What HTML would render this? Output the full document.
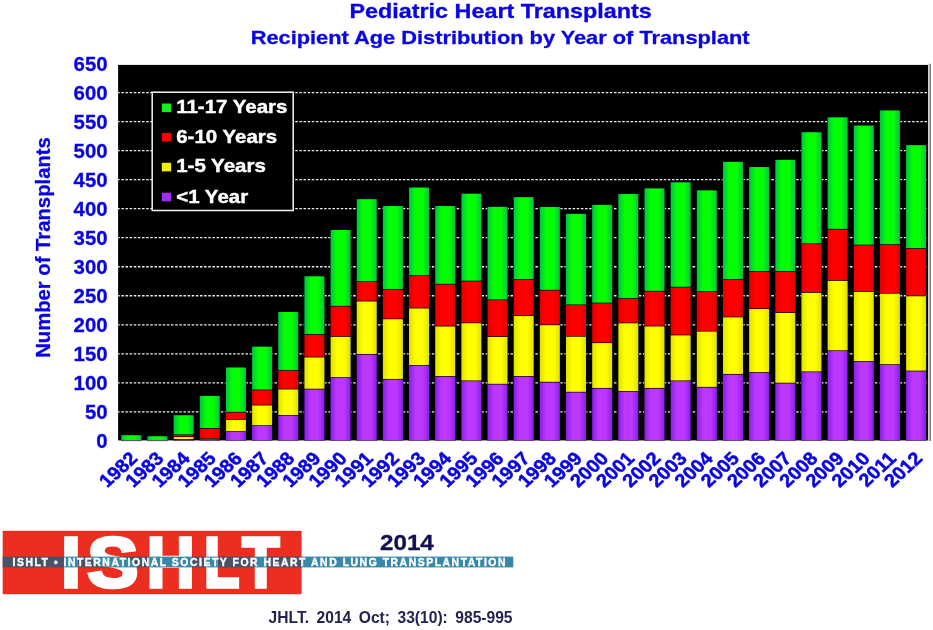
<!DOCTYPE html>
<html><head><meta charset="utf-8"><title>Pediatric Heart Transplants</title>
<style>html,body{margin:0;padding:0;background:#fff}svg{display:block}text{font-family:"Liberation Sans",sans-serif;font-weight:bold}</style></head><body>
<svg width="933" height="630" viewBox="0 0 933 630">
<defs>
<linearGradient id="gg" x1="0" x2="1" y1="0" y2="0"><stop offset="0" stop-color="#00c440"/><stop offset="0.32" stop-color="#04ff04"/><stop offset="0.68" stop-color="#04ff04"/><stop offset="1" stop-color="#00c440"/></linearGradient>
<linearGradient id="gr" x1="0" x2="1" y1="0" y2="0"><stop offset="0" stop-color="#e00000"/><stop offset="0.32" stop-color="#ff0000"/><stop offset="0.68" stop-color="#ff0000"/><stop offset="1" stop-color="#e00000"/></linearGradient>
<linearGradient id="gy" x1="0" x2="1" y1="0" y2="0"><stop offset="0" stop-color="#e0e000"/><stop offset="0.32" stop-color="#ffff00"/><stop offset="0.68" stop-color="#ffff00"/><stop offset="1" stop-color="#e0e000"/></linearGradient>
<linearGradient id="gp" x1="0" x2="1" y1="0" y2="0"><stop offset="0" stop-color="#8a1ee8"/><stop offset="0.32" stop-color="#bc38ff"/><stop offset="0.68" stop-color="#bc38ff"/><stop offset="1" stop-color="#8a1ee8"/></linearGradient>
</defs>
<rect width="933" height="630" fill="#fff"/>
<text transform="translate(500.6,18.0) scale(1.18,1)" font-size="19.8" text-anchor="middle" fill="#0a04e2" stroke="#0a04e2" stroke-width="0.3">Pediatric Heart Transplants</text>
<text transform="translate(500.15,43.7) scale(1.16,1)" font-size="18.8" text-anchor="middle" fill="#0a04e2" stroke="#0a04e2" stroke-width="0.3">Recipient Age Distribution by Year of Transplant</text>
<rect x="118.1" y="64.9" width="809.9" height="375.5" fill="#000"/>
<rect x="928.4" y="63.8" width="1.3" height="377.2" fill="#b4b4b4"/>
<rect x="929.7" y="63.8" width="1.3" height="377.2" fill="#7c7c7c"/>
<line x1="117.2" x2="928.3" y1="411.89" y2="411.89" stroke="#f0f0f0" stroke-width="1.3" stroke-dasharray="2.5 1.64"/>
<line x1="117.2" x2="928.3" y1="382.86" y2="382.86" stroke="#f0f0f0" stroke-width="1.3" stroke-dasharray="2.5 1.64"/>
<line x1="117.2" x2="928.3" y1="353.83" y2="353.83" stroke="#f0f0f0" stroke-width="1.3" stroke-dasharray="2.5 1.64"/>
<line x1="117.2" x2="928.3" y1="324.80" y2="324.80" stroke="#f0f0f0" stroke-width="1.3" stroke-dasharray="2.5 1.64"/>
<line x1="117.2" x2="928.3" y1="295.77" y2="295.77" stroke="#f0f0f0" stroke-width="1.3" stroke-dasharray="2.5 1.64"/>
<line x1="117.2" x2="928.3" y1="266.74" y2="266.74" stroke="#f0f0f0" stroke-width="1.3" stroke-dasharray="2.5 1.64"/>
<line x1="117.2" x2="928.3" y1="237.71" y2="237.71" stroke="#f0f0f0" stroke-width="1.3" stroke-dasharray="2.5 1.64"/>
<line x1="117.2" x2="928.3" y1="208.68" y2="208.68" stroke="#f0f0f0" stroke-width="1.3" stroke-dasharray="2.5 1.64"/>
<line x1="117.2" x2="928.3" y1="179.65" y2="179.65" stroke="#f0f0f0" stroke-width="1.3" stroke-dasharray="2.5 1.64"/>
<line x1="117.2" x2="928.3" y1="150.62" y2="150.62" stroke="#f0f0f0" stroke-width="1.3" stroke-dasharray="2.5 1.64"/>
<line x1="117.2" x2="928.3" y1="121.59" y2="121.59" stroke="#f0f0f0" stroke-width="1.3" stroke-dasharray="2.5 1.64"/>
<line x1="117.2" x2="928.3" y1="92.56" y2="92.56" stroke="#f0f0f0" stroke-width="1.3" stroke-dasharray="2.5 1.64"/>
<text x="107.6" y="448.0" font-size="20.4" text-anchor="end" fill="#0a04e2" stroke="#0a04e2" stroke-width="0.3">0</text>
<text x="107.6" y="419.0" font-size="20.4" text-anchor="end" fill="#0a04e2" stroke="#0a04e2" stroke-width="0.3">50</text>
<text x="107.6" y="390.0" font-size="20.4" text-anchor="end" fill="#0a04e2" stroke="#0a04e2" stroke-width="0.3">100</text>
<text x="107.6" y="360.9" font-size="20.4" text-anchor="end" fill="#0a04e2" stroke="#0a04e2" stroke-width="0.3">150</text>
<text x="107.6" y="331.9" font-size="20.4" text-anchor="end" fill="#0a04e2" stroke="#0a04e2" stroke-width="0.3">200</text>
<text x="107.6" y="302.9" font-size="20.4" text-anchor="end" fill="#0a04e2" stroke="#0a04e2" stroke-width="0.3">250</text>
<text x="107.6" y="273.8" font-size="20.4" text-anchor="end" fill="#0a04e2" stroke="#0a04e2" stroke-width="0.3">300</text>
<text x="107.6" y="244.8" font-size="20.4" text-anchor="end" fill="#0a04e2" stroke="#0a04e2" stroke-width="0.3">350</text>
<text x="107.6" y="215.8" font-size="20.4" text-anchor="end" fill="#0a04e2" stroke="#0a04e2" stroke-width="0.3">400</text>
<text x="107.6" y="186.8" font-size="20.4" text-anchor="end" fill="#0a04e2" stroke="#0a04e2" stroke-width="0.3">450</text>
<text x="107.6" y="157.7" font-size="20.4" text-anchor="end" fill="#0a04e2" stroke="#0a04e2" stroke-width="0.3">500</text>
<text x="107.6" y="128.7" font-size="20.4" text-anchor="end" fill="#0a04e2" stroke="#0a04e2" stroke-width="0.3">550</text>
<text x="107.6" y="99.7" font-size="20.4" text-anchor="end" fill="#0a04e2" stroke="#0a04e2" stroke-width="0.3">600</text>
<text x="107.6" y="70.6" font-size="20.4" text-anchor="end" fill="#0a04e2" stroke="#0a04e2" stroke-width="0.3">650</text>
<text transform="translate(50,247.5) rotate(-90)" font-size="20.25" text-anchor="middle" fill="#0a04e2" stroke="#0a04e2" stroke-width="0.3">Number of Transplants</text>
<rect x="120.90" y="434.44" width="20.80" height="6.06" fill="#000"/>
<rect x="121.30" y="435.19" width="20.00" height="4.96" fill="url(#gg)"/>
<rect x="121.30" y="440.85" width="20.00" height="0.30" fill="url(#gp)"/>
<rect x="147.06" y="435.48" width="20.80" height="5.02" fill="#000"/>
<rect x="147.46" y="436.23" width="20.00" height="3.92" fill="url(#gg)"/>
<rect x="147.46" y="440.85" width="20.00" height="0.30" fill="url(#gp)"/>
<rect x="173.22" y="414.45" width="20.80" height="26.05" fill="#000"/>
<rect x="173.62" y="415.20" width="20.00" height="19.17" fill="url(#gg)"/>
<rect x="173.62" y="435.07" width="20.00" height="1.32" fill="url(#gr)"/>
<rect x="173.62" y="437.09" width="20.00" height="1.90" fill="url(#gy)"/>
<rect x="173.62" y="439.69" width="20.00" height="0.66" fill="url(#gp)"/>
<rect x="199.38" y="395.15" width="20.80" height="45.35" fill="#000"/>
<rect x="199.78" y="395.90" width="20.00" height="32.11" fill="url(#gg)"/>
<rect x="199.78" y="428.72" width="20.00" height="9.41" fill="url(#gr)"/>
<rect x="199.78" y="438.83" width="20.00" height="0.46" fill="url(#gy)"/>
<rect x="199.78" y="439.98" width="20.00" height="0.37" fill="url(#gp)"/>
<rect x="225.54" y="366.73" width="20.80" height="73.77" fill="#000"/>
<rect x="225.94" y="367.48" width="20.00" height="44.36" fill="url(#gg)"/>
<rect x="225.94" y="412.54" width="20.00" height="6.58" fill="url(#gr)"/>
<rect x="225.94" y="419.82" width="20.00" height="11.37" fill="url(#gy)"/>
<rect x="225.94" y="431.90" width="20.00" height="8.45" fill="url(#gp)"/>
<rect x="251.70" y="345.93" width="20.80" height="94.57" fill="#000"/>
<rect x="252.10" y="346.68" width="20.00" height="42.92" fill="url(#gg)"/>
<rect x="252.10" y="390.30" width="20.00" height="14.44" fill="url(#gr)"/>
<rect x="252.10" y="405.44" width="20.00" height="19.81" fill="url(#gy)"/>
<rect x="252.10" y="425.95" width="20.00" height="14.40" fill="url(#gp)"/>
<rect x="277.86" y="311.27" width="20.80" height="129.23" fill="#000"/>
<rect x="278.26" y="312.02" width="20.00" height="58.05" fill="url(#gg)"/>
<rect x="278.26" y="370.77" width="20.00" height="17.96" fill="url(#gr)"/>
<rect x="278.26" y="389.43" width="20.00" height="25.59" fill="url(#gy)"/>
<rect x="278.26" y="415.72" width="20.00" height="24.63" fill="url(#gp)"/>
<rect x="304.02" y="275.57" width="20.80" height="164.93" fill="#000"/>
<rect x="304.42" y="276.32" width="20.00" height="57.82" fill="url(#gg)"/>
<rect x="304.42" y="334.84" width="20.00" height="21.89" fill="url(#gr)"/>
<rect x="304.42" y="357.43" width="20.00" height="31.30" fill="url(#gy)"/>
<rect x="304.42" y="389.43" width="20.00" height="50.92" fill="url(#gp)"/>
<rect x="330.18" y="229.24" width="20.80" height="211.26" fill="#000"/>
<rect x="330.58" y="229.99" width="20.00" height="75.85" fill="url(#gg)"/>
<rect x="330.58" y="306.53" width="20.00" height="29.63" fill="url(#gr)"/>
<rect x="330.58" y="336.86" width="20.00" height="40.32" fill="url(#gy)"/>
<rect x="330.58" y="377.88" width="20.00" height="62.47" fill="url(#gp)"/>
<rect x="356.34" y="198.39" width="20.80" height="242.11" fill="#000"/>
<rect x="356.74" y="199.14" width="20.00" height="82.14" fill="url(#gg)"/>
<rect x="356.74" y="281.98" width="20.00" height="18.77" fill="url(#gr)"/>
<rect x="356.74" y="301.45" width="20.00" height="52.51" fill="url(#gy)"/>
<rect x="356.74" y="354.66" width="20.00" height="85.69" fill="url(#gp)"/>
<rect x="382.50" y="205.32" width="20.80" height="235.18" fill="#000"/>
<rect x="382.90" y="206.07" width="20.00" height="82.89" fill="url(#gg)"/>
<rect x="382.90" y="289.67" width="20.00" height="28.88" fill="url(#gr)"/>
<rect x="382.90" y="319.24" width="20.00" height="59.67" fill="url(#gy)"/>
<rect x="382.90" y="379.61" width="20.00" height="60.74" fill="url(#gp)"/>
<rect x="408.66" y="186.78" width="20.80" height="253.72" fill="#000"/>
<rect x="409.06" y="187.53" width="20.00" height="87.80" fill="url(#gg)"/>
<rect x="409.06" y="276.03" width="20.00" height="31.71" fill="url(#gr)"/>
<rect x="409.06" y="308.44" width="20.00" height="56.61" fill="url(#gy)"/>
<rect x="409.06" y="365.75" width="20.00" height="74.60" fill="url(#gp)"/>
<rect x="434.82" y="205.32" width="20.80" height="235.18" fill="#000"/>
<rect x="435.22" y="206.07" width="20.00" height="77.75" fill="url(#gg)"/>
<rect x="435.22" y="284.52" width="20.00" height="41.24" fill="url(#gr)"/>
<rect x="435.22" y="326.47" width="20.00" height="49.62" fill="url(#gy)"/>
<rect x="435.22" y="376.78" width="20.00" height="63.57" fill="url(#gp)"/>
<rect x="460.98" y="192.96" width="20.80" height="247.54" fill="#000"/>
<rect x="461.38" y="193.71" width="20.00" height="86.99" fill="url(#gg)"/>
<rect x="461.38" y="281.40" width="20.00" height="41.13" fill="url(#gr)"/>
<rect x="461.38" y="323.23" width="20.00" height="57.24" fill="url(#gy)"/>
<rect x="461.38" y="381.17" width="20.00" height="59.18" fill="url(#gp)"/>
<rect x="487.14" y="206.13" width="20.80" height="234.37" fill="#000"/>
<rect x="487.54" y="206.88" width="20.00" height="92.60" fill="url(#gg)"/>
<rect x="487.54" y="300.18" width="20.00" height="36.10" fill="url(#gr)"/>
<rect x="487.54" y="336.98" width="20.00" height="46.84" fill="url(#gy)"/>
<rect x="487.54" y="384.52" width="20.00" height="55.83" fill="url(#gp)"/>
<rect x="513.30" y="196.43" width="20.80" height="244.07" fill="#000"/>
<rect x="513.70" y="197.18" width="20.00" height="81.85" fill="url(#gg)"/>
<rect x="513.70" y="279.73" width="20.00" height="35.64" fill="url(#gr)"/>
<rect x="513.70" y="316.07" width="20.00" height="60.02" fill="url(#gy)"/>
<rect x="513.70" y="376.78" width="20.00" height="63.57" fill="url(#gp)"/>
<rect x="539.46" y="206.19" width="20.80" height="234.31" fill="#000"/>
<rect x="539.86" y="206.94" width="20.00" height="82.89" fill="url(#gg)"/>
<rect x="539.86" y="290.53" width="20.00" height="33.96" fill="url(#gr)"/>
<rect x="539.86" y="325.19" width="20.00" height="56.61" fill="url(#gy)"/>
<rect x="539.86" y="382.50" width="20.00" height="57.85" fill="url(#gp)"/>
<rect x="565.62" y="213.12" width="20.80" height="227.38" fill="#000"/>
<rect x="566.02" y="213.87" width="20.00" height="90.58" fill="url(#gg)"/>
<rect x="566.02" y="305.15" width="20.00" height="30.84" fill="url(#gr)"/>
<rect x="566.02" y="336.69" width="20.00" height="55.11" fill="url(#gy)"/>
<rect x="566.02" y="392.50" width="20.00" height="47.85" fill="url(#gp)"/>
<rect x="591.78" y="204.11" width="20.80" height="236.39" fill="#000"/>
<rect x="592.18" y="204.86" width="20.00" height="97.80" fill="url(#gg)"/>
<rect x="592.18" y="303.36" width="20.00" height="39.05" fill="url(#gr)"/>
<rect x="592.18" y="343.10" width="20.00" height="44.82" fill="url(#gy)"/>
<rect x="592.18" y="388.63" width="20.00" height="51.72" fill="url(#gp)"/>
<rect x="617.94" y="193.31" width="20.80" height="247.19" fill="#000"/>
<rect x="618.34" y="194.06" width="20.00" height="104.07" fill="url(#gg)"/>
<rect x="618.34" y="298.82" width="20.00" height="23.77" fill="url(#gr)"/>
<rect x="618.34" y="323.29" width="20.00" height="67.76" fill="url(#gy)"/>
<rect x="618.34" y="391.75" width="20.00" height="48.60" fill="url(#gp)"/>
<rect x="644.10" y="187.65" width="20.80" height="252.85" fill="#000"/>
<rect x="644.50" y="188.40" width="20.00" height="102.42" fill="url(#gg)"/>
<rect x="644.50" y="291.51" width="20.00" height="34.19" fill="url(#gr)"/>
<rect x="644.50" y="326.41" width="20.00" height="61.52" fill="url(#gy)"/>
<rect x="644.50" y="388.63" width="20.00" height="51.72" fill="url(#gp)"/>
<rect x="670.26" y="181.52" width="20.80" height="258.98" fill="#000"/>
<rect x="670.66" y="182.27" width="20.00" height="104.50" fill="url(#gg)"/>
<rect x="670.66" y="287.47" width="20.00" height="47.19" fill="url(#gr)"/>
<rect x="670.66" y="335.36" width="20.00" height="45.11" fill="url(#gy)"/>
<rect x="670.66" y="381.17" width="20.00" height="59.18" fill="url(#gp)"/>
<rect x="696.42" y="189.61" width="20.80" height="250.89" fill="#000"/>
<rect x="696.82" y="190.36" width="20.00" height="100.92" fill="url(#gg)"/>
<rect x="696.82" y="291.98" width="20.00" height="38.87" fill="url(#gr)"/>
<rect x="696.82" y="331.55" width="20.00" height="55.34" fill="url(#gy)"/>
<rect x="696.82" y="387.59" width="20.00" height="52.76" fill="url(#gp)"/>
<rect x="722.58" y="161.10" width="20.80" height="279.40" fill="#000"/>
<rect x="722.98" y="161.85" width="20.00" height="117.30" fill="url(#gg)"/>
<rect x="722.98" y="279.85" width="20.00" height="36.80" fill="url(#gr)"/>
<rect x="722.98" y="317.35" width="20.00" height="56.60" fill="url(#gy)"/>
<rect x="722.98" y="374.65" width="20.00" height="65.70" fill="url(#gp)"/>
<rect x="748.74" y="166.30" width="20.80" height="274.20" fill="#000"/>
<rect x="749.14" y="167.05" width="20.00" height="104.00" fill="url(#gg)"/>
<rect x="749.14" y="271.75" width="20.00" height="36.60" fill="url(#gr)"/>
<rect x="749.14" y="309.05" width="20.00" height="63.10" fill="url(#gy)"/>
<rect x="749.14" y="372.85" width="20.00" height="67.50" fill="url(#gp)"/>
<rect x="774.90" y="159.10" width="20.80" height="281.40" fill="#000"/>
<rect x="775.30" y="159.85" width="20.00" height="111.20" fill="url(#gg)"/>
<rect x="775.30" y="271.75" width="20.00" height="40.50" fill="url(#gr)"/>
<rect x="775.30" y="312.95" width="20.00" height="69.80" fill="url(#gy)"/>
<rect x="775.30" y="383.45" width="20.00" height="56.90" fill="url(#gp)"/>
<rect x="801.06" y="131.50" width="20.80" height="309.00" fill="#000"/>
<rect x="801.46" y="132.25" width="20.00" height="111.15" fill="url(#gg)"/>
<rect x="801.46" y="244.10" width="20.00" height="48.05" fill="url(#gr)"/>
<rect x="801.46" y="292.85" width="20.00" height="78.60" fill="url(#gy)"/>
<rect x="801.46" y="372.15" width="20.00" height="68.20" fill="url(#gp)"/>
<rect x="827.22" y="116.60" width="20.80" height="323.90" fill="#000"/>
<rect x="827.62" y="117.35" width="20.00" height="111.50" fill="url(#gg)"/>
<rect x="827.62" y="229.55" width="20.00" height="50.60" fill="url(#gr)"/>
<rect x="827.62" y="280.85" width="20.00" height="69.50" fill="url(#gy)"/>
<rect x="827.62" y="351.05" width="20.00" height="89.30" fill="url(#gp)"/>
<rect x="853.38" y="124.80" width="20.80" height="315.70" fill="#000"/>
<rect x="853.78" y="125.55" width="20.00" height="119.10" fill="url(#gg)"/>
<rect x="853.78" y="245.35" width="20.00" height="45.80" fill="url(#gr)"/>
<rect x="853.78" y="291.85" width="20.00" height="69.25" fill="url(#gy)"/>
<rect x="853.78" y="361.80" width="20.00" height="78.55" fill="url(#gp)"/>
<rect x="879.54" y="109.70" width="20.80" height="330.80" fill="#000"/>
<rect x="879.94" y="110.45" width="20.00" height="133.80" fill="url(#gg)"/>
<rect x="879.94" y="244.95" width="20.00" height="48.00" fill="url(#gr)"/>
<rect x="879.94" y="293.65" width="20.00" height="70.60" fill="url(#gy)"/>
<rect x="879.94" y="364.95" width="20.00" height="75.40" fill="url(#gp)"/>
<rect x="905.70" y="144.40" width="20.80" height="296.10" fill="#000"/>
<rect x="906.10" y="145.15" width="20.00" height="103.00" fill="url(#gg)"/>
<rect x="906.10" y="248.85" width="20.00" height="46.70" fill="url(#gr)"/>
<rect x="906.10" y="296.25" width="20.00" height="74.40" fill="url(#gy)"/>
<rect x="906.10" y="371.35" width="20.00" height="69.00" fill="url(#gp)"/>
<text transform="translate(138.7,459.6) scale(1.09,1) rotate(-45)" font-size="18.3" text-anchor="end" fill="#0a04e2" stroke="#0a04e2" stroke-width="0.5">1982</text>
<text transform="translate(164.9,459.6) scale(1.09,1) rotate(-45)" font-size="18.3" text-anchor="end" fill="#0a04e2" stroke="#0a04e2" stroke-width="0.5">1983</text>
<text transform="translate(191.0,459.6) scale(1.09,1) rotate(-45)" font-size="18.3" text-anchor="end" fill="#0a04e2" stroke="#0a04e2" stroke-width="0.5">1984</text>
<text transform="translate(217.2,459.6) scale(1.09,1) rotate(-45)" font-size="18.3" text-anchor="end" fill="#0a04e2" stroke="#0a04e2" stroke-width="0.5">1985</text>
<text transform="translate(243.3,459.6) scale(1.09,1) rotate(-45)" font-size="18.3" text-anchor="end" fill="#0a04e2" stroke="#0a04e2" stroke-width="0.5">1986</text>
<text transform="translate(269.5,459.6) scale(1.09,1) rotate(-45)" font-size="18.3" text-anchor="end" fill="#0a04e2" stroke="#0a04e2" stroke-width="0.5">1987</text>
<text transform="translate(295.7,459.6) scale(1.09,1) rotate(-45)" font-size="18.3" text-anchor="end" fill="#0a04e2" stroke="#0a04e2" stroke-width="0.5">1988</text>
<text transform="translate(321.8,459.6) scale(1.09,1) rotate(-45)" font-size="18.3" text-anchor="end" fill="#0a04e2" stroke="#0a04e2" stroke-width="0.5">1989</text>
<text transform="translate(348.0,459.6) scale(1.09,1) rotate(-45)" font-size="18.3" text-anchor="end" fill="#0a04e2" stroke="#0a04e2" stroke-width="0.5">1990</text>
<text transform="translate(374.1,459.6) scale(1.09,1) rotate(-45)" font-size="18.3" text-anchor="end" fill="#0a04e2" stroke="#0a04e2" stroke-width="0.5">1991</text>
<text transform="translate(400.3,459.6) scale(1.09,1) rotate(-45)" font-size="18.3" text-anchor="end" fill="#0a04e2" stroke="#0a04e2" stroke-width="0.5">1992</text>
<text transform="translate(426.5,459.6) scale(1.09,1) rotate(-45)" font-size="18.3" text-anchor="end" fill="#0a04e2" stroke="#0a04e2" stroke-width="0.5">1993</text>
<text transform="translate(452.6,459.6) scale(1.09,1) rotate(-45)" font-size="18.3" text-anchor="end" fill="#0a04e2" stroke="#0a04e2" stroke-width="0.5">1994</text>
<text transform="translate(478.8,459.6) scale(1.09,1) rotate(-45)" font-size="18.3" text-anchor="end" fill="#0a04e2" stroke="#0a04e2" stroke-width="0.5">1995</text>
<text transform="translate(504.9,459.6) scale(1.09,1) rotate(-45)" font-size="18.3" text-anchor="end" fill="#0a04e2" stroke="#0a04e2" stroke-width="0.5">1996</text>
<text transform="translate(531.1,459.6) scale(1.09,1) rotate(-45)" font-size="18.3" text-anchor="end" fill="#0a04e2" stroke="#0a04e2" stroke-width="0.5">1997</text>
<text transform="translate(557.3,459.6) scale(1.09,1) rotate(-45)" font-size="18.3" text-anchor="end" fill="#0a04e2" stroke="#0a04e2" stroke-width="0.5">1998</text>
<text transform="translate(583.4,459.6) scale(1.09,1) rotate(-45)" font-size="18.3" text-anchor="end" fill="#0a04e2" stroke="#0a04e2" stroke-width="0.5">1999</text>
<text transform="translate(609.6,459.6) scale(1.09,1) rotate(-45)" font-size="18.3" text-anchor="end" fill="#0a04e2" stroke="#0a04e2" stroke-width="0.5">2000</text>
<text transform="translate(635.7,459.6) scale(1.09,1) rotate(-45)" font-size="18.3" text-anchor="end" fill="#0a04e2" stroke="#0a04e2" stroke-width="0.5">2001</text>
<text transform="translate(661.9,459.6) scale(1.09,1) rotate(-45)" font-size="18.3" text-anchor="end" fill="#0a04e2" stroke="#0a04e2" stroke-width="0.5">2002</text>
<text transform="translate(688.1,459.6) scale(1.09,1) rotate(-45)" font-size="18.3" text-anchor="end" fill="#0a04e2" stroke="#0a04e2" stroke-width="0.5">2003</text>
<text transform="translate(714.2,459.6) scale(1.09,1) rotate(-45)" font-size="18.3" text-anchor="end" fill="#0a04e2" stroke="#0a04e2" stroke-width="0.5">2004</text>
<text transform="translate(740.4,459.6) scale(1.09,1) rotate(-45)" font-size="18.3" text-anchor="end" fill="#0a04e2" stroke="#0a04e2" stroke-width="0.5">2005</text>
<text transform="translate(766.5,459.6) scale(1.09,1) rotate(-45)" font-size="18.3" text-anchor="end" fill="#0a04e2" stroke="#0a04e2" stroke-width="0.5">2006</text>
<text transform="translate(792.7,459.6) scale(1.09,1) rotate(-45)" font-size="18.3" text-anchor="end" fill="#0a04e2" stroke="#0a04e2" stroke-width="0.5">2007</text>
<text transform="translate(818.9,459.6) scale(1.09,1) rotate(-45)" font-size="18.3" text-anchor="end" fill="#0a04e2" stroke="#0a04e2" stroke-width="0.5">2008</text>
<text transform="translate(845.0,459.6) scale(1.09,1) rotate(-45)" font-size="18.3" text-anchor="end" fill="#0a04e2" stroke="#0a04e2" stroke-width="0.5">2009</text>
<text transform="translate(871.2,459.6) scale(1.09,1) rotate(-45)" font-size="18.3" text-anchor="end" fill="#0a04e2" stroke="#0a04e2" stroke-width="0.5">2010</text>
<text transform="translate(897.3,459.6) scale(1.09,1) rotate(-45)" font-size="18.3" text-anchor="end" fill="#0a04e2" stroke="#0a04e2" stroke-width="0.5">2011</text>
<text transform="translate(923.5,459.6) scale(1.09,1) rotate(-45)" font-size="18.3" text-anchor="end" fill="#0a04e2" stroke="#0a04e2" stroke-width="0.5">2012</text>
<rect x="152.2" y="92.2" width="141" height="118.3" fill="#000" stroke="#f4f4f4" stroke-width="1.5"/>
<rect x="161.8" y="103.5" width="9.3" height="8.6" fill="#14f01c"/>
<text transform="translate(176.2,113.3) scale(1.073,1)" font-size="19.1" text-anchor="start" fill="#fff" stroke="#fff" stroke-width="0.45">11-17 Years</text>
<rect x="161.8" y="132.9" width="9.3" height="8.6" fill="#ff0000"/>
<text transform="translate(176.2,143.0) scale(1.073,1)" font-size="19.1" text-anchor="start" fill="#fff" stroke="#fff" stroke-width="0.45">6-10 Years</text>
<rect x="161.8" y="162.8" width="9.3" height="8.6" fill="#f0f000"/>
<text transform="translate(176.2,172.4) scale(1.073,1)" font-size="19.1" text-anchor="start" fill="#fff" stroke="#fff" stroke-width="0.45">1-5 Years</text>
<rect x="161.8" y="192.7" width="9.3" height="8.6" fill="#a030f0"/>
<text transform="translate(176.2,203.0) scale(1.073,1)" font-size="19.1" text-anchor="start" fill="#fff" stroke="#fff" stroke-width="0.45">&lt;1 Year</text>
<rect x="2.7" y="530.8" width="298.9" height="63.4" fill="#ec2e20"/>
<rect x="2.7" y="556.6" width="298.9" height="10.8" fill="#485268"/>
<rect x="301.6" y="556.6" width="211.7" height="10.8" fill="#3a88a8"/>
<mask id="lm" maskUnits="userSpaceOnUse" x="0" y="520" width="320" height="90"><text y="586.8" font-size="69.8" fill="#fff" stroke="#fff" stroke-width="3.6" stroke-linejoin="miter"><tspan x="61.2" textLength="19.40" lengthAdjust="spacingAndGlyphs">I</tspan><tspan x="87.4" textLength="50.75" lengthAdjust="spacingAndGlyphs">S</tspan><tspan x="146.8" textLength="47.88" lengthAdjust="spacingAndGlyphs">H</tspan><tspan x="204.0" textLength="35.40" lengthAdjust="spacingAndGlyphs">L</tspan><tspan x="242.3" textLength="37.10" lengthAdjust="spacingAndGlyphs">T</tspan></text></mask>
<text y="586.8" font-size="69.8" fill="#fff" stroke="#fff" stroke-width="3.6" stroke-linejoin="miter"><tspan x="61.2" textLength="19.40" lengthAdjust="spacingAndGlyphs">I</tspan><tspan x="87.4" textLength="50.75" lengthAdjust="spacingAndGlyphs">S</tspan><tspan x="146.8" textLength="47.88" lengthAdjust="spacingAndGlyphs">H</tspan><tspan x="204.0" textLength="35.40" lengthAdjust="spacingAndGlyphs">L</tspan><tspan x="242.3" textLength="37.10" lengthAdjust="spacingAndGlyphs">T</tspan></text>
<rect x="2.7" y="556.6" width="298.9" height="10.8" fill="#3a88a8" mask="url(#lm)"/>
<text x="12.5" y="565.7" font-size="10.4" fill="#fff" stroke="#fff" stroke-width="0.4" textLength="493" lengthAdjust="spacing">ISHLT • INTERNATIONAL SOCIETY FOR HEART AND LUNG TRANSPLANTATION</text>
<text transform="translate(406.9,549.6) scale(1.1,1)" font-size="22" text-anchor="middle" fill="#10104c" stroke="#10104c" stroke-width="0.3">2014</text>
<text x="268.6" y="622.5" font-size="15.6" fill="#22224e" word-spacing="3.2">JHLT. 2014 Oct; 33(10): 985-995</text>
</svg></body></html>
